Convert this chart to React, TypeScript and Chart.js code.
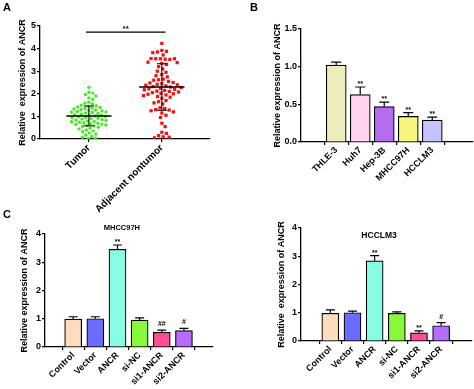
import React, { useEffect, useRef } from "react";
import { Chart, registerables } from "chart.js";

Chart.register(...registerables);

const FONT = "'Liberation Sans', Arial, sans-serif";

// ---------- Panel A data ----------
const groupsA = ["Tumor", "Adjacent nontumor"];
const tumorValues = [
  2.29, 2.07, 2.03, 1.97, 1.9, 1.82, 1.76, 1.63, 1.58, 1.55, 1.5, 1.47, 1.45, 1.42, 1.4,
  1.37, 1.35, 1.33, 1.3, 1.28, 1.26, 1.24, 1.22, 1.2, 1.19, 1.17, 1.15, 1.13, 1.1, 1.08,
  1.06, 1.04, 1.02, 1.0, 0.98, 0.96, 0.94, 0.92, 0.9, 0.88, 0.86, 0.84, 0.82, 0.8, 0.78,
  0.76, 0.74, 0.72, 0.7, 0.68, 0.66, 0.64, 0.62, 0.6, 0.58, 0.55, 0.52, 0.48, 0.45, 0.4,
  0.36, 0.32, 0.27, 0.22, 0.18, 0.12, 0.08, 0.04, 0.02,
];
const adjacentValues = [
  4.23, 3.92, 3.88, 3.85, 3.82, 3.72, 3.55, 3.53, 3.55, 3.52, 3.56, 3.55, 3.4, 3.38, 3.35,
  3.3, 3.2, 3.1, 3.0, 2.95, 2.85, 2.8, 2.75, 2.65, 2.62, 2.6, 2.55, 2.5, 2.48, 2.45, 2.42,
  2.4, 2.38, 2.35, 2.32, 2.3, 2.28, 2.25, 2.22, 2.2, 2.18, 2.15, 2.12, 2.1, 2.08, 2.05,
  2.02, 2.0, 1.98, 1.95, 1.92, 1.88, 1.85, 1.8, 1.7, 1.65, 1.6, 1.55, 1.38, 1.35, 1.3,
  1.28, 1.25, 1.2, 1.15, 1.05, 0.95, 0.7, 0.55, 0.3, 0.25, 0.15, 0.1, 0.08, 0.05,
];
const meansA = [1.02, 2.3];
const sdA = [0.44, 1.03];
const sigA = "**";
const sigBarA = { from: 0.96, to: 2.05, y: 4.73 };

// ---------- Panel B data ----------
const cellLinesB = ["THLE-3", "Huh7", "Hep-3B", "MHCC97H", "HCCLM3"];
const meansB = [1.02, 0.63, 0.47, 0.34, 0.29];
const errB = [0.04, 0.1, 0.06, 0.05, 0.04];
const sigB = ["", "**", "**", "**", "**"];
const colorsB = ["#ececbd", "#ffd3f0", "#b56cf0", "#f6f67c", "#c3c3ff"];

// ---------- Panels C / D data ----------
const groupsCD = ["Control", "Vector", "ANCR", "si-NC", "si1-ANCR", "si2-ANCR"];
const colorsCD = ["#ffdcbd", "#6a6cff", "#86fde4", "#88f83a", "#ff4f96", "#b86cff"];
const meansC = [0.99, 1.0, 3.46, 0.95, 0.52, 0.58];
const errC = [0.08, 0.07, 0.15, 0.08, 0.08, 0.08];
const sigC = ["", "", "**", "", "##", "#"];
const meansD = [0.98, 1.0, 2.84, 0.98, 0.29, 0.54];
const errD = [0.12, 0.06, 0.18, 0.05, 0.07, 0.11];
const sigD = ["", "", "**", "", "**", "#"];

// ---------- helpers ----------
const font = (size: number) => ({ family: FONT, size, weight: "bold" as const });

function swarm(values: number[], center: number, yPx: number, xPx: number, diam: number) {
  const placed: { px: number; py: number }[] = [];
  return values.map((v) => {
    const py = v * yPx;
    const cands = [0];
    for (const p of placed) {
      const dy = Math.abs(p.py - py);
      if (dy < diam) {
        const dx = Math.sqrt(diam * diam - dy * dy);
        cands.push(p.px + dx + 0.01, p.px - dx - 0.01);
      }
    }
    cands.sort((a, b) => Math.abs(a) - Math.abs(b));
    let chosen = 0;
    for (const c of cands) {
      if (placed.every((p) => (p.px - c) ** 2 + (p.py - py) ** 2 >= diam * diam - 0.001)) {
        chosen = c;
        break;
      }
    }
    placed.push({ px: chosen, py });
    return { x: center + chosen / xPx, y: v };
  });
}

function yAxis(min: number, max: number, step: number, title: string, titlePad: number, width: number, fmt?: (v: number) => string) {
  return {
    type: "linear",
    min,
    max,
    ticks: {
      stepSize: step,
      color: "#000",
      font: font(9),
      padding: 1,
      callback: (v: any) => (fmt ? fmt(Number(v)) : String(v)),
    },
    grid: { drawOnChartArea: false, drawTicks: true, tickLength: 3, color: "#000", lineWidth: 1.2 },
    border: { color: "#000", width: 1.3 },
    title: { display: true, text: title, color: "#000", font: font(9), padding: { top: titlePad, bottom: 0 } },
    afterFit: (s: any) => {
      s.width = width;
    },
  };
}

function xAxis(min: number, max: number, labels: string[], first: number, height: number, size: number) {
  return {
    type: "linear",
    min,
    max,
    afterBuildTicks: (s: any) => {
      s.ticks = labels.map((_, i) => ({ value: i + first }));
    },
    ticks: {
      autoSkip: false,
      minRotation: 45,
      maxRotation: 45,
      color: "#000",
      font: font(size),
      padding: 0,
      callback: (v: any) => labels[Math.round(Number(v)) - first],
    },
    grid: { drawOnChartArea: false, drawTicks: true, tickLength: 3, color: "#000", lineWidth: 1.2 },
    border: { color: "#000", width: 1.3 },
    afterFit: (s: any) => {
      s.height = height;
      s.paddingLeft = 0;
      s.paddingRight = 0;
    },
  };
}

function drawSig(ctx: CanvasRenderingContext2D, text: string, x: number, yCap: number, size: number) {
  ctx.font = `bold ${size}px ${FONT}`;
  ctx.textAlign = "center";
  ctx.textBaseline = "alphabetic";
  ctx.fillStyle = "#000";
  const star = text.includes("*");
  ctx.fillText(text, x, star ? yCap + 0.5 : yCap - 2.5);
}

type BarSpec = {
  labels: string[];
  means: number[];
  errs: number[];
  sigs: string[];
  colors: string[];
  xMin: number;
  xMax: number;
  yMax: number;
  yStep: number;
  yFmt?: (v: number) => string;
  yWidth: number;
  titlePad: number;
  xHeight: number;
  padTop: number;
  padRight: number;
  barW: number;
  capW: number;
  labelSize: number;
  yTitle: string;
  title?: string;
  titleX?: number;
  titleY?: number;
  titleSize?: number;
};

function barConfig(p: BarSpec): any {
  return {
    type: "bar",
    data: {
      datasets: [
        {
          data: p.means.map((m, i) => ({ x: i, y: m })),
          backgroundColor: p.colors,
          borderColor: "#000",
          borderWidth: 1.2,
          barThickness: p.barW,
          borderSkipped: "bottom",
        },
      ],
    },
    options: {
      responsive: false,
      animation: false,
      devicePixelRatio: 1,
      layout: { padding: { top: p.padTop, right: p.padRight, left: 0, bottom: 0 } },
      plugins: { legend: { display: false }, tooltip: { enabled: false } },
      scales: {
        x: xAxis(p.xMin, p.xMax, p.labels, 0, p.xHeight, p.labelSize),
        y: yAxis(0, p.yMax, p.yStep, p.yTitle, p.titlePad, p.yWidth, p.yFmt),
      },
    },
    plugins: [
      {
        id: "errbars",
        afterDatasetsDraw(chart: any) {
          const { ctx } = chart;
          const x = chart.scales.x;
          const y = chart.scales.y;
          ctx.save();
          ctx.strokeStyle = "#000";
          ctx.lineWidth = 1.2;
          p.means.forEach((m, i) => {
            const px = x.getPixelForValue(i);
            const y0 = y.getPixelForValue(m);
            const y1 = y.getPixelForValue(m + p.errs[i]);
            ctx.beginPath();
            ctx.moveTo(px, y0);
            ctx.lineTo(px, y1);
            ctx.moveTo(px - p.capW, y1);
            ctx.lineTo(px + p.capW, y1);
            ctx.stroke();
            if (p.sigs[i]) drawSig(ctx, p.sigs[i], px, y1 - 1.5, 7);
          });
          if (p.title) {
            ctx.font = `bold ${p.titleSize}px ${FONT}`;
            ctx.textAlign = "center";
            ctx.textBaseline = "middle";
            ctx.fillStyle = "#000";
            ctx.fillText(p.title, x.getPixelForValue(p.titleX), y.getPixelForValue(p.titleY));
          }
          ctx.restore();
        },
      },
    ],
  };
}

function scatterConfig(): any {
  const Y_PX = 22.6;
  const X_PX = 73;
  return {
    type: "scatter",
    data: {
      datasets: [
        {
          data: swarm(tumorValues, 1, Y_PX, X_PX, 4.1),
          pointStyle: "circle",
          pointRadius: 1.7,
          backgroundColor: "#46ea22",
          borderWidth: 0,
        },
        {
          data: swarm(adjacentValues, 2, Y_PX, X_PX, 4.7),
          pointStyle: "rect",
          pointRadius: 2.3,
          backgroundColor: "#ee1212",
          borderWidth: 0,
        },
      ],
    },
    options: {
      responsive: false,
      animation: false,
      devicePixelRatio: 1,
      layout: { padding: { top: 26, right: 30, left: 0, bottom: 0 } },
      plugins: { legend: { display: false }, tooltip: { enabled: false } },
      scales: {
        x: xAxis(0.33, 2.66, groupsA, 1, 76, 10),
        y: yAxis(0, 5, 1, "Relative  expression of ANCR", 17.6, 40),
      },
    },
    plugins: [
      {
        id: "meansd",
        afterDatasetsDraw(chart: any) {
          const { ctx } = chart;
          const x = chart.scales.x;
          const y = chart.scales.y;
          ctx.save();
          ctx.strokeStyle = "#000";
          meansA.forEach((m, i) => {
            const c = i + 1;
            const xc = x.getPixelForValue(c);
            const ym = y.getPixelForValue(m);
            ctx.lineWidth = 1.5;
            ctx.beginPath();
            ctx.moveTo(x.getPixelForValue(c - 0.31), ym);
            ctx.lineTo(x.getPixelForValue(c + 0.31), ym);
            ctx.stroke();
            const yt = y.getPixelForValue(m + sdA[i]);
            const yb = y.getPixelForValue(m - sdA[i]);
            ctx.lineWidth = 1;
            ctx.beginPath();
            ctx.moveTo(xc, yb);
            ctx.lineTo(xc, yt);
            ctx.moveTo(xc - 5, yt);
            ctx.lineTo(xc + 5, yt);
            ctx.moveTo(xc - 5, yb);
            ctx.lineTo(xc + 5, yb);
            ctx.stroke();
          });
          const sy = y.getPixelForValue(sigBarA.y);
          const sx0 = x.getPixelForValue(sigBarA.from);
          const sx1 = x.getPixelForValue(sigBarA.to);
          ctx.lineWidth = 1.3;
          ctx.beginPath();
          ctx.moveTo(sx0, sy);
          ctx.lineTo(sx1, sy);
          ctx.stroke();
          drawSig(ctx, sigA, (sx0 + sx1) / 2, sy - 2, 8);
          ctx.restore();
        },
      },
    ],
  };
}

function ChartPanel({ left, top, width, height, make }: { left: number; top: number; width: number; height: number; make: () => any }) {
  const ref = useRef<HTMLCanvasElement | null>(null);
  useEffect(() => {
    const chart = new Chart(ref.current as HTMLCanvasElement, make());
    return () => chart.destroy();
  }, []);
  return (
    <canvas
      ref={ref}
      width={width}
      height={height}
      style={{ position: "absolute", left, top, width, height }}
    />
  );
}

const letterStyle = (left: number, top: number): React.CSSProperties => ({
  position: "absolute",
  left,
  top,
  fontFamily: FONT,
  fontWeight: "bold",
  fontSize: 11,
  lineHeight: "12px",
  color: "#000",
});

export default function App() {
  return (
    <div
      style={{
        position: "fixed",
        left: 0,
        top: 0,
        width: 474,
        height: 389,
        background: "#fff",
        overflow: "hidden",
      }}
    >
      <ChartPanel left={0} top={0} width={240} height={215} make={scatterConfig} />
      <ChartPanel
        left={240}
        top={0}
        width={234}
        height={195}
        make={() =>
          barConfig({
            labels: cellLinesB,
            means: meansB,
            errs: errB,
            sigs: sigB,
            colors: colorsB,
            xMin: -0.75,
            xMax: 4.98,
            yMax: 1.5,
            yStep: 0.5,
            yFmt: (v) => v.toFixed(1),
            yWidth: 61,
            titlePad: 32,
            xHeight: 53,
            padTop: 29,
            padRight: 1,
            barW: 20,
            capW: 5,
            labelSize: 9,
            yTitle: "Relative expression of ANCR",
          })
        }
      />
      <ChartPanel
        left={0}
        top={195}
        width={240}
        height={194}
        make={() =>
          barConfig({
            labels: groupsCD,
            means: meansC,
            errs: errC,
            sigs: sigC,
            colors: colorsCD,
            xMin: -0.64,
            xMax: 5.68,
            yMax: 4,
            yStep: 1,
            yWidth: 45,
            titlePad: 19.6,
            xHeight: 42,
            padTop: 39,
            padRight: 27,
            barW: 17,
            capW: 4.5,
            labelSize: 9,
            yTitle: "Relative expression of ANCR",
            title: "MHCC97H",
            titleX: 2.2,
            titleY: 4.2,
            titleSize: 7.5,
          })
        }
      />
      <ChartPanel
        left={240}
        top={195}
        width={234}
        height={194}
        make={() =>
          barConfig({
            labels: groupsCD,
            means: meansD,
            errs: errD,
            sigs: sigD,
            colors: colorsCD,
            xMin: -0.68,
            xMax: 5.75,
            yMax: 4,
            yStep: 1,
            yWidth: 61,
            titlePad: 36,
            xHeight: 48,
            padTop: 33,
            padRight: 2,
            barW: 17,
            capW: 4.5,
            labelSize: 9,
            yTitle: "Relative  expression of ANCR",
            title: "HCCLM3",
            titleX: 2.2,
            titleY: 3.74,
            titleSize: 8.5,
          })
        }
      />
      <div style={letterStyle(3, 1)}>A</div>
      <div style={letterStyle(250, 1)}>B</div>
      <div style={letterStyle(3, 208)}>C</div>
    </div>
  );
}
